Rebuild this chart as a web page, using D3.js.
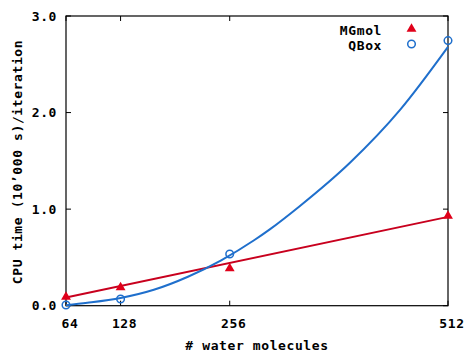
<!DOCTYPE html>
<html><head><meta charset="utf-8">
<script src="https://cdn.jsdelivr.net/npm/d3@7"></script>
<style>
html,body{margin:0;padding:0;background:#fff;}
text{font-family:"DejaVu Sans Mono",monospace;font-weight:bold;font-size:13px;letter-spacing:0.6px;fill:#000;}
</style></head>
<body>
<svg id="chart" width="474" height="355"></svg>
<script>
// data
const molecules = [64, 128, 256, 512];
const mgmolTime = [0.09, 0.19, 0.385, 0.93];
const qboxTime = [0.007, 0.07, 0.535, 2.745];
// fitted curves
const mgmolFitX = [64, 512];
const mgmolFitY = [0.085, 0.92];
const qboxFitX = [64, 89, 128, 167, 207, 246, 285, 303, 338, 397, 456, 512];
const qboxFitY = [0.005, 0.03, 0.08, 0.165, 0.30, 0.47, 0.68, 0.79, 1.03, 1.48, 2.03, 2.68];
const yTicks = [0, 1, 2, 3];
const yTickLabels = ["0.0", "1.0", "2.0", "3.0"];
const xTickLabels = ["64", "128", "256", "512"];
const seriesNames = ["MGmol", "QBox"];

const red = "#c8001e", redMark = "#e0001a", blue = "#1f6fcc";
const svg = d3.select("#chart");
const L = 66, R = 448, T = 16, B = 305.7;
const x = d3.scaleLinear().domain([64, 512]).range([L, R]);
const y = d3.scaleLinear().domain([0, 3]).range([B, T]);

// frame
svg.append("rect").attr("x", L).attr("y", T).attr("width", R - L).attr("height", B - T)
  .attr("fill", "none").attr("stroke", "#000").attr("stroke-width", 1.2);

// ticks (inward, mirrored)
const tl = 5;
molecules.forEach(v => {
  svg.append("line").attr("x1", x(v)).attr("x2", x(v)).attr("y1", B).attr("y2", B - tl).attr("stroke", "#000");
  svg.append("line").attr("x1", x(v)).attr("x2", x(v)).attr("y1", T).attr("y2", T + tl).attr("stroke", "#000");
});
yTicks.forEach(v => {
  svg.append("line").attr("x1", L).attr("x2", L + tl).attr("y1", y(v)).attr("y2", y(v)).attr("stroke", "#000");
  svg.append("line").attr("x1", R).attr("x2", R - tl).attr("y1", y(v)).attr("y2", y(v)).attr("stroke", "#000");
});
// tick labels
yTicks.forEach((v, i) => {
  svg.append("text").attr("x", 57).attr("y", y(v)).attr("dy", "0.36em").attr("text-anchor", "end").text(yTickLabels[i]);
});
molecules.forEach((v, i) => {
  svg.append("text").attr("x", x(v) + 4).attr("y", 327.5).attr("text-anchor", "middle").text(xTickLabels[i]);
});
// axis titles
svg.append("text").attr("x", 257).attr("y", 349.5).attr("text-anchor", "middle").text("# water molecules");
svg.append("text").attr("transform", "translate(22,162) rotate(-90)").attr("text-anchor", "middle")
  .text("CPU time (10\u2019000 s)/iteration");

// fit curves
const line = d3.line().x(d => x(d[0])).y(d => y(d[1]));
svg.append("path").datum(d3.zip(mgmolFitX, mgmolFitY)).attr("d", line)
  .attr("fill", "none").attr("stroke", red).attr("stroke-width", 2);
svg.append("path").datum(d3.zip(qboxFitX, qboxFitY)).attr("d", line.curve(d3.curveMonotoneX))
  .attr("fill", "none").attr("stroke", blue).attr("stroke-width", 2);

// markers
const tri = d3.symbol().type(d3.symbolTriangle).size(42);
molecules.forEach((v, i) => {
  svg.append("path").attr("d", tri).attr("transform", `translate(${x(v)},${y(mgmolTime[i])})`).attr("fill", redMark);
});
molecules.forEach((v, i) => {
  svg.append("circle").attr("cx", x(v)).attr("cy", y(qboxTime[i])).attr("r", 3.8)
    .attr("fill", "none").attr("stroke", blue).attr("stroke-width", 1.5);
});

// legend
svg.append("text").attr("x", 382).attr("y", 34.5).attr("text-anchor", "end").text(seriesNames[0]);
svg.append("text").attr("x", 382).attr("y", 49.5).attr("text-anchor", "end").text(seriesNames[1]);
svg.append("path").attr("d", tri).attr("transform", "translate(411.5,29)").attr("fill", redMark);
svg.append("circle").attr("cx", 411.5).attr("cy", 44).attr("r", 3.8).attr("fill", "none").attr("stroke", blue).attr("stroke-width", 1.5);
</script>
</body></html>
